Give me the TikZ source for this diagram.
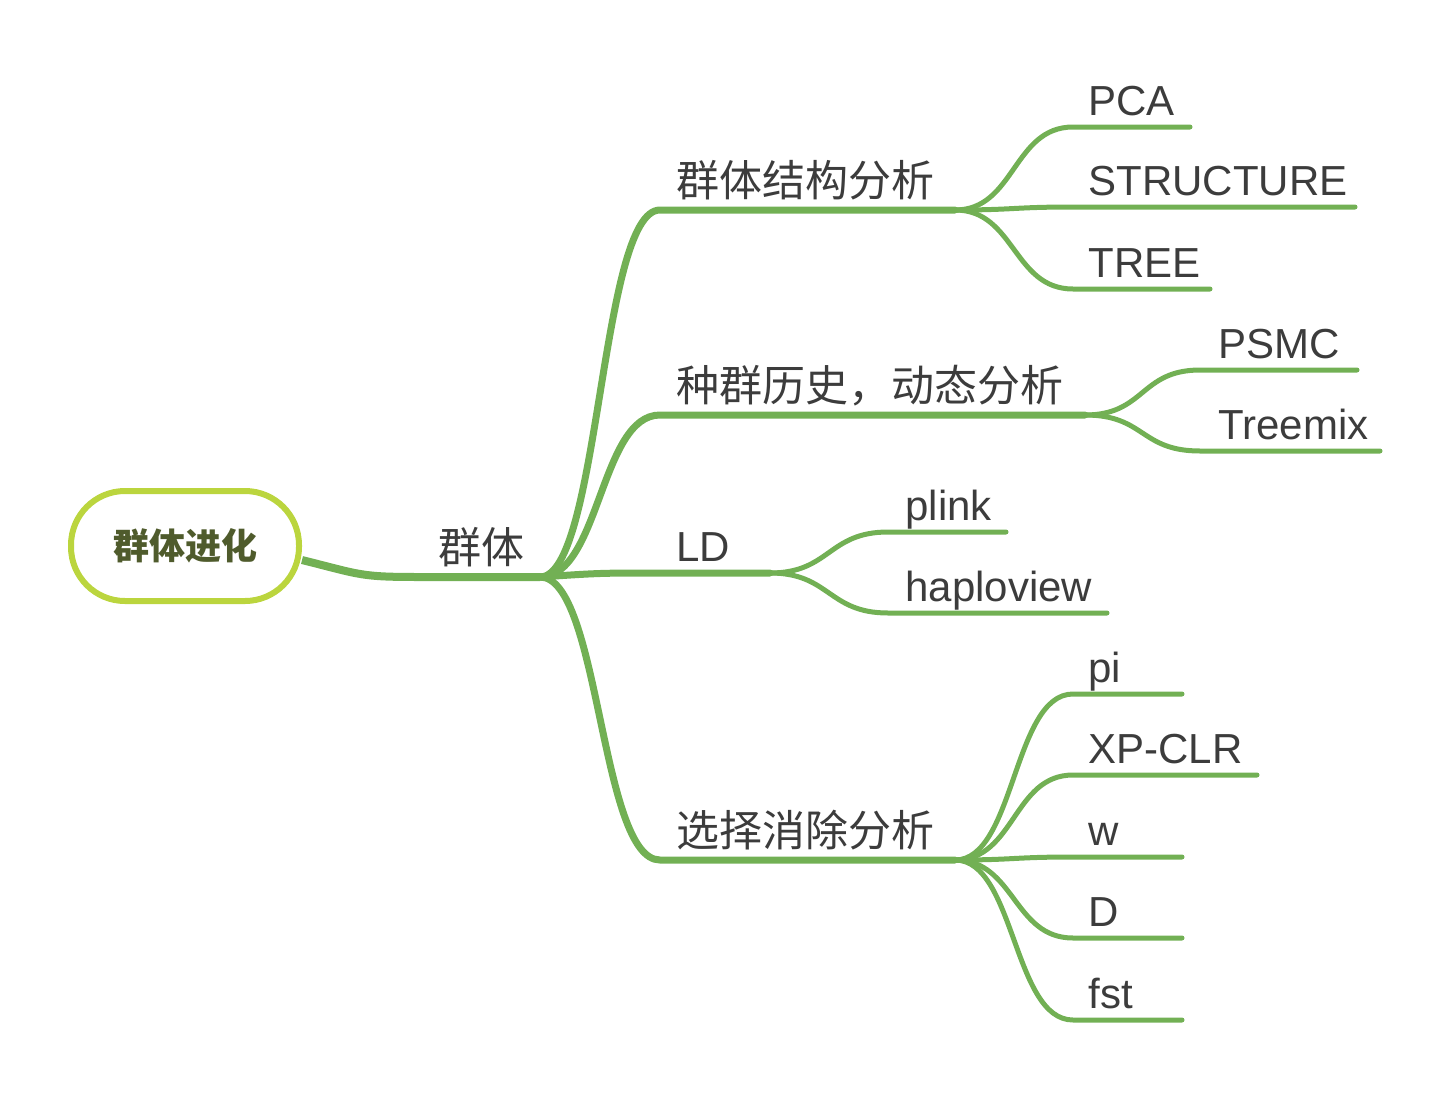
\documentclass[tikz,border=0pt]{standalone}
\usepackage{fontspec}
\setmainfont{Liberation Sans}
\newfontfamily\cjk{Noto Sans CJK SC}
\usetikzlibrary{positioning}
\definecolor{leaf}{HTML}{72B054}
\definecolor{rootline}{HTML}{BBD53E}
\definecolor{roottext}{HTML}{4F5B2C}
\definecolor{ink}{HTML}{3C3C3C}

\begin{document}
\begin{tikzpicture}[x=0.5pt,y=-0.5pt,
    main/.style={draw=leaf, line width=3.5pt, line cap=round},
    sub/.style={draw=leaf, line width=2.5pt, line cap=round},
    lab/.style={anchor=base west, inner sep=0pt, text=ink, font=\fontsize{21}{24}\selectfont},
    clab/.style={anchor=base west, inner sep=0pt, text=ink, font=\cjk\fontsize{21.5}{24}\selectfont}]
  \useasboundingbox (0,0) rectangle (1447,1093);
  % root
  \node[draw=rootline, line width=3pt, rounded corners=27pt, minimum width=114pt, minimum height=55pt,
        text=roottext, font=\cjk\bfseries\fontsize{18}{20}\selectfont] (evo) at (185,546) {群体进化};
  \coordinate (hub) at (540,577);
  \draw[draw=leaf, line width=4pt] (evo.east |- 0,560) .. controls +(60,15) and +(-60,0) .. (420,577) -- (hub);
  \node[clab] (pop) at (438,563) {群体};
  % level one
  \coordinate (s1) at (955,210);
  \coordinate (s2) at (1085,415);
  \coordinate (s3) at (770,573);
  \coordinate (s4) at (955,860);
  \draw[main] (hub) .. controls +(60,0) and +(-60,0) .. (660,210) -- (s1);
  \draw[main] (hub) .. controls +(60,0) and +(-60,0) .. (660,415) -- (s2);
  \draw[main] (hub) .. controls +(60,-4) and +(-60,0) .. (660,573) -- (s3);
  \draw[main] (hub) .. controls +(60,0) and +(-60,0) .. (660,860) -- (s4);
  \node[clab] (struct) at (676,196) {群体结构分析};
  \node[clab] (hist) at (676,401) {种群历史，动态分析};
  \node[lab] (ld) at (676,561) {LD};
  \node[clab] (sel) at (676,846) {选择消除分析};
  % level two
  \foreach \y/\e/\t in {127/1190/PCA, 207/1355/STRUCTURE, 289/1210/TREE}{
    \draw[sub] (s1) .. controls +(60,0) and +(-60,0) .. (1073,\y) -- (\e,\y);
    \node[lab] at (1088,\y-12) {\t};
  }
  \foreach \y/\e/\t in {370/1357/PSMC, 451/1380/Treemix}{
    \draw[sub] (s2) .. controls +(60,0) and +(-60,0) .. (1200,\y) -- (\e,\y);
    \node[lab] at (1218,\y-12) {\t};
  }
  \foreach \y/\e/\t in {532/1006/plink, 613/1107/haploview}{
    \draw[sub] (s3) .. controls +(60,0) and +(-60,0) .. (888,\y) -- (\e,\y);
    \node[lab] at (905,\y-12) {\t};
  }
  \foreach \y/\e/\t in {694/1182/pi, 775/1257/XP-CLR, 857/1182/w, 938/1182/D, 1020/1182/fst}{
    \draw[sub] (s4) .. controls +(60,0) and +(-60,0) .. (1073,\y) -- (\e,\y);
    \node[lab] at (1088,\y-12) {\t};
  }
\end{tikzpicture}
\end{document}
